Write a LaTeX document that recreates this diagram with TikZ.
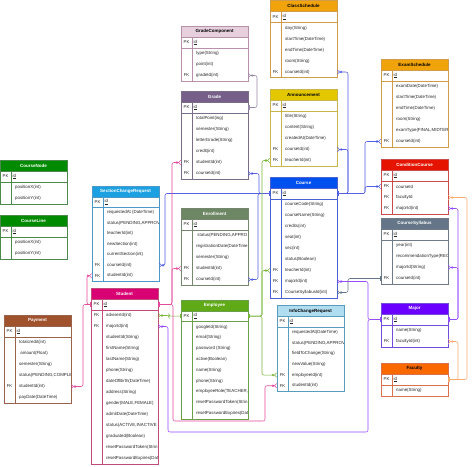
\documentclass[tikz,border=0pt]{standalone}
\usepackage{fontspec}
\setmainfont{Liberation Sans}
\usetikzlibrary{arrows.meta}
\definecolor{cGC}{HTML}{E6D0DE}\definecolor{cGCS}{HTML}{996185}
\definecolor{cGR}{HTML}{76608A}\definecolor{cGRS}{HTML}{432D57}
\definecolor{cCS}{HTML}{F0A30A}\definecolor{cCSS}{HTML}{BD7000}
\definecolor{cEX}{HTML}{F0A30A}\definecolor{cEXS}{HTML}{BD7000}
\definecolor{cAN}{HTML}{E3C800}\definecolor{cANS}{HTML}{B09500}
\definecolor{cCC}{HTML}{E51400}\definecolor{cCCS}{HTML}{B20000}
\definecolor{cSY}{HTML}{647687}\definecolor{cSYS}{HTML}{314354}
\definecolor{cCN}{HTML}{008A00}\definecolor{cCNS}{HTML}{005700}
\definecolor{cSC}{HTML}{1BA1E2}\definecolor{cSCS}{HTML}{006EAF}
\definecolor{cEN}{HTML}{6D8764}\definecolor{cENS}{HTML}{3A5431}
\definecolor{cCO}{HTML}{0050EF}\definecolor{cCOS}{HTML}{001DBC}
\definecolor{cPA}{HTML}{A0522D}\definecolor{cPAS}{HTML}{6D1F00}
\definecolor{cST}{HTML}{D80073}\definecolor{cSTS}{HTML}{A50040}
\definecolor{cEM}{HTML}{60A917}\definecolor{cEMS}{HTML}{2D7600}
\definecolor{cIC}{HTML}{B1DDF0}\definecolor{cICS}{HTML}{10739E}
\definecolor{cMA}{HTML}{6A00FF}\definecolor{cMAS}{HTML}{3700CC}
\definecolor{cFA}{HTML}{FA6800}\definecolor{cFAS}{HTML}{C73500}
\definecolor{lnCourse}{RGB}{85,95,225}
\tikzset{
  hdr/.style={font=\fontsize{4.5}{5}\selectfont\bfseries, inner sep=0pt, minimum width=67pt, anchor=center},
  keyt/.style={font=\fontsize{4.2}{5}\selectfont, inner sep=0pt, text=black!85},
  attr/.style={font=\fontsize{4.4}{5}\selectfont, inner sep=0pt, anchor=west, text=black!85},
  tbl/.style={line width=0.5pt},
  rel/.style={line width=0.55pt, rounded corners=2pt,
    arrows={{Straight Barb[reversed,length=2.2pt,width=4.4pt] Circle[open,length=2.4pt,width=2.4pt]}-{Bar[width=4.4pt] Bar[width=4.4pt]}}},
  lgrade/.style={rel, draw=cGR!75},
  lcourse/.style={rel, draw=lnCourse},
  lstud/.style={rel, draw=cST!70},
  lemp/.style={rel, draw=cEM!85},
  lmajor/.style={rel, draw=cMA!70},
  lfac/.style={rel, draw=cFA!55},
  lsyl/.style={rel, draw=cSY},
}
\newcommand{\ertable}[9]{%
  \pgfmathsetmacro{\erbot}{#3+(#8+2)*#4}%
  \pgfmathsetmacro{\erpk}{#3+1.5*#4}%
  \pgfmathsetmacro{\ersep}{#3+2*#4}%
  \pgfmathsetmacro{\erhd}{#3+#4}%
  \filldraw[tbl, fill=white, draw=#5S!70] (#2,#3) rectangle (#2+67,\erbot);
  \node[hdr, fill=#5, draw=#5S!70, text=#6, minimum height=#4] (#1) at (#2+33.5,#3+0.5*#4) {#7};
  \draw[tbl, draw=#5S!70] (#2,\ersep) -- (#2+67,\ersep) (#2+11,\erhd) -- (#2+11,\erbot);
  \coordinate (#1L0) at (#2,\erpk);
  \coordinate (#1R0) at (#2+67,\erpk);
  \begin{scope}
  \clip (#2,#3) rectangle (#2+66.6,\erbot);
  \node[keyt] (#1k0) at (#2+5.5,\erpk) {PK};
  \node[attr] (#1a0) at (#2+12.5,\erpk) {\underline{id}};
  \foreach \ekey/\etxt [count=\ei] in {#9} {%
    \pgfmathsetmacro{\ery}{#3+(1.5+\ei)*#4}%
    \node[keyt] (#1k\ei) at (#2+5.5,\ery) {\ekey};
    \node[attr] (#1a\ei) at (#2+15,\ery) {\etxt};
    \coordinate (#1L\ei) at (#2,\ery);
    \coordinate (#1R\ei) at (#2+67,\ery);
  }%
  \end{scope}
}
\begin{document}
\begin{tikzpicture}[x=1pt,y=-1pt]
\fill[white] (0,0) rectangle (474,466);
\useasboundingbox (0,0) rectangle (474,466);

\ertable{gc}{181}{26}{11}{cGC}{black}{GradeComponent}{3}{/type(String), /point(int), FK/gradeId(int)}
\ertable{gr}{181}{91}{11}{cGR}{white}{Grade}{6}{/totalPoint(ing), /semester(String), /letterGrade(String), /credit(int), FK/studentId(int), FK/courseId(int)}
\ertable{cs}{270}{0.5}{11}{cCS}{black}{ClassSchedule}{5}{/day(String), /startTime(DateTime), /endTime(DateTime), /room(String), FK/courseId(int)}
\ertable{an}{270}{89}{11}{cAN}{black}{Announcement}{5}{/title(String), /content(String), /createdAt(DateTime), FK/courseId(int), FK/teacherId(int)}
\ertable{ex}{381}{59}{11}{cEX}{black}{ExamSchedule}{6}{/examDate(DateTime), /startTime(DateTime), /endTime(DateTime), /room(String), /{examType(FINAL,MIDTER}, FK/courseId(int)}
\ertable{cc}{381}{159}{11}{cCC}{white}{ConditionCourse}{3}{FK/courseId, FK/facultyId, FK/majorId(int)}
\ertable{sy}{381}{218}{11}{cSY}{white}{CourseSyllabus}{4}{/year(int), /recommendationType(REC, /majorId(String), FK/courseId(int)}
\ertable{cn}{0}{160}{11}{cCN}{white}{CourseNode}{2}{/positionX(int), /positionY(int)}
\ertable{cl}{0}{215}{11}{cCN}{white}{CourseLine}{2}{/positionX(int), /positionY(int)}
\ertable{sc}{92}{186.5}{10.5}{cSC}{white}{SectionChangeRequest}{7}{/requestedAt (DateTime), /{status(PENDING,APPROV}, /teacherId(int), /newSection(int), /currentSection(int), FK/courseId(int), FK/studentId(int)}
\ertable{en}{181}{208}{11}{cEN}{white}{Enrollment}{5}{/{\ status(PENDING,APPRO}, /registrationDate(DateTime, /semester(String), FK/studentId(int), FK/courseId(int)}
\ertable{co}{270}{177}{11}{cCO}{white}{Course}{9}{/courseCode(String), /courseName(String), /credits(int), /seat(int), /sec(int), /status(Boolean), FK/teacherId(int), FK/majorId(int), FK/CourseSyllabusId(int)}
\ertable{pa}{4}{315}{11}{cPA}{white}{Payment}{6}{/totalcredit(int), /{\ amount(Float)}, /semester(String), /{status(PENDING,COMPLE}, FK/studentId(int), /payDate(DateTime)}
\ertable{st}{91}{288}{11}{cST}{white}{Student}{14}{FK/adviserId(int), FK/majorId(int), /studentId(String), /firstName(String), /lastName(String), /phone(String), /dateOfBirth(DateTime), /address(String), /{gender(MALE,FEMALE)}, /admitDate(DateTime), /{status(ACTIVE,INACTIVE}, /graduated(Boolean), /resetPasswordToken(Strin, /resetPasswordExpires(Dat}
\ertable{em}{181}{300}{10.8}{cEM}{white}{Employee}{9}{/googleId(String), /email(String), /password (String), /active(Boolean), /name(String), /phone(String), /{employeeRole(TEACHER,}, /resetPasswordToken(Strin, /resetPasswordExpires(Dat}
\ertable{ic}{277}{305.5}{10.7}{cIC}{black}{InfoChangeRequest}{6}{/requestedAt(DateTime), /{status(PENDING,APPROV}, /fieldToChange(String), /newValue(String), FK/employeeId(int), FK/studentId(int)}
\ertable{ma}{381}{303}{11}{cMA}{white}{Major}{2}{/name(String), FK/facultyId(int)}
\ertable{fa}{381}{363}{11}{cFA}{black}{Faculty}{1}{/name(String)}

\coordinate (majbus) at (368,432);
\coordinate (stbus) at (173,421);

% grade
\draw[lgrade] (gcR3) -- ++(9,0) |- (grR0);
% course
\draw[lcourse] (grR6) -- ++(11,0) |- (coL0);
\draw[lcourse] (enR5) -- ++(10,0) |- (coL0);
\draw[lcourse] (scR6) -- ++(6,0) |- (coL0);
\draw[lcourse] (csR5) -- ++(11,0) |- (coR0);
\draw[lcourse] (anR4) -- ++(11,0) |- (coR0);
\draw[lcourse] (exL6) -- ++(-16,0) |- (coR0);
\draw[lcourse] (ccL1) -- ++(-16,0) |- (coR0);
% employee
\draw[lemp] (coL7) -- ++(-8,0) |- (emR0);
\draw[lemp] (anL5) -- ++(-8,0) |- (emR0);
\draw[lemp] (icL5) -- ++(-15,0) |- (emR0);
\draw[lemp] (stR1) -- ++(11,0) |- (emL0);
% major
\draw[lmajor] (coR8) -- ++(31,0) |- (maL0);
\draw[lmajor] (stR2) -- ++(10,0) |- (majbus) |- (maL0);
\draw[lmajor] (ccR3) -- ++(10,0) |- (maR0);
\draw[lmajor] (syR3) -- ++(10,0) |- (maR0);
% faculty
\draw[lfac] (ccR2) -- ++(19,0) |- (faR0);
\draw[lfac] (maR2) -- ++(10,0) |- (faR0);
% syllabus
\draw[lsyl] (coR9) -- ++(11,0) |- (syL4);
% student
\draw[lstud] (paR5) -- ++(12,0) |- (stL0);
\draw[lstud] (scL7) -- ++(-5,0) |- (stL0);
\draw[lstud] (grL5) -- ++(-9,0) |- (stR0);
\draw[lstud] (enL4) -- ++(-9,0) |- (stR0);
\draw[lstud] (icL6) -- ++(-12,0) |- (stbus) |- (stR0);
\end{tikzpicture}
\end{document}
